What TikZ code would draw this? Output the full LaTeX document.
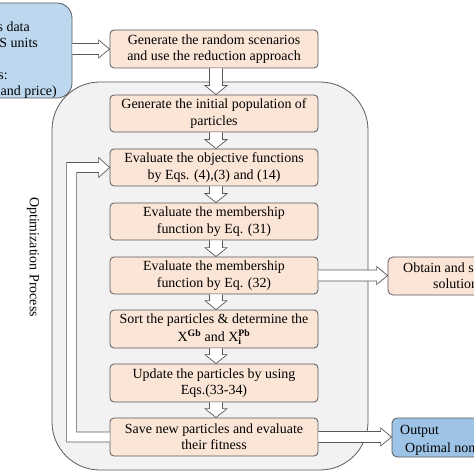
\documentclass[tikz,border=0pt]{standalone}
\usepackage{fontspec}
\setmainfont{Liberation Serif}
\usetikzlibrary{calc}
\definecolor{peach}{HTML}{FBE5D6}
\definecolor{lblue}{HTML}{BDD7EE}
\definecolor{mblue}{HTML}{9DC3E6}
\definecolor{bgray}{HTML}{F2F2F2}
\definecolor{edge}{HTML}{595959}
\tikzset{
  txt/.style={font=\fontsize{14}{16.5}\selectfont, inner sep=0pt},
  proc/.style={txt, draw=edge, fill=peach, line width=0.8bp, rounded corners=4bp,
    minimum width=208bp, minimum height=37bp, align=center},
  arrowbox/.style={draw=edge, fill=white, line width=0.7bp, line join=miter},
  harrow/.style={to path={let \p1=(\tikztostart), \p2=(\tikztotarget) in
    (\x1,\y1+5.5bp) -- (\x2-11bp,\y1+5.5bp) -- (\x2-11bp,\y1+9bp) -- (\x2,\y1)
    -- (\x2-11bp,\y1-9bp) -- (\x2-11bp,\y1-5.5bp) -- (\x1,\y1-5.5bp)}},
  varrow/.style={to path={let \p1=(\tikztostart), \p2=(\tikztotarget) in
    (\x1+2bp-6.5bp,\y1) -- (\x1+2bp-6.5bp,\y2+9bp) -- (\x1+2bp-11bp,\y2+9bp) -- (\x1+2bp,\y2)
    -- (\x1+2bp+11bp,\y2+9bp) -- (\x1+2bp+6.5bp,\y2+9bp) -- (\x1+2bp+6.5bp,\y1)}},
}
\begin{document}
\begin{tikzpicture}[x=1bp,y=-1bp]
\useasboundingbox (0,0) rectangle (474,474);
\clip (0,0) rectangle (474,474);
% optimization region
\draw[draw=edge, fill=bgray, line width=0.8bp, rounded corners=48bp] (52,82) rectangle (368,470);
\node[txt, rotate=-90] (opt) at (33,257) {Optimization Process};
% input box
\node[txt, draw=edge, fill=lblue, line width=0.8bp, rounded corners=15bp,
  minimum width=102bp, minimum height=95bp] (inp) at (21,50.5) {};
\node[txt, anchor=base east] (i1) at (30,31.5) {s data};
\node[txt, anchor=base east] (i2) at (38,47.5) {ES units};
\node[txt, anchor=base east] (i3) at (8,79.5) {s:};
\node[txt, anchor=base east] (i4) at (57,95.5) {and price)};
% process boxes
\node[proc, minimum height=38bp] (b1) at (214,49) {Generate the random scenarios\\and use the reduction approach};
\node[proc] (b2) at (214,113.5) {Generate the initial population of\\particles};
\node[proc] (b3) at (214,167.5) {Evaluate the objective functions\\by Eqs. (4),(3) and (14)};
\node[proc] (b4) at (214,221.5) {Evaluate the membership\\function by Eq. (31)};
\node[proc] (b5) at (214,275.5) {Evaluate the membership\\function by Eq. (32)};
\node[proc, minimum height=38bp] (b6) at (214,329) {Sort the particles \& determine the\\[2bp]X\textsuperscript{\textbf{Gb}} and X\rlap{\textsubscript{\textbf{i}}}\textsuperscript{\textbf{Pb}}};
\node[proc, minimum height=38bp] (b7) at (214,383) {Update the particles by using\\Eqs.(33-34)};
\node[proc, minimum height=38bp] (b8) at (214,437) {Save new particles and evaluate\\their fitness};
% right boxes
\node[txt, draw=edge, fill=peach, line width=0.8bp, rounded corners=5bp,
  minimum width=110bp, minimum height=38bp] (obt) at (443,276) {};
\node[txt, anchor=base west] (o1) at (403,272) {Obtain and s};
\node[txt, anchor=base west] (o2) at (433,288) {solution};
\node[txt, draw=edge, fill=mblue, line width=0.8bp, rounded corners=5bp,
  minimum width=110bp, minimum height=39bp] (out) at (447,437.5) {};
\node[txt, anchor=base west] (u1) at (400,434) {Output};
\node[txt, anchor=base west] (u2) at (405,452) {Optimal non};
% arrows
\draw[arrowbox] (inp.east|-b1.west) to[harrow] (b1.west);
\draw[arrowbox] (b1.south) to[varrow] (b2.north);
\draw[arrowbox] (b2.south) to[varrow] (b3.north);
\draw[arrowbox] (b3.south) to[varrow] (b4.north);
\draw[arrowbox] (b4.south) to[varrow] (b5.north);
\draw[arrowbox] (b5.south) to[varrow] (b6.north);
\draw[arrowbox] (b6.south) to[varrow] (b7.north);
\draw[arrowbox] (b7.south) to[varrow] (b8.north);
\draw[arrowbox] (b5.east) to[harrow] (obt.west|-b5.east);
\draw[arrowbox] (b8.east) to[harrow] (out.west|-b8.east);
% feedback loop
\draw[arrowbox] ($(b8.west)+(0,5)$) -- ($(b8.west)+(-43,5)$) -- ($(b3.west)+(-43,-5)$)
  -- ($(b3.west)+(-11,-5)$) -- ($(b3.west)+(-11,-10)$) -- (b3.west)
  -- ($(b3.west)+(-11,10)$) -- ($(b3.west)+(-11,5)$) -- ($(b3.west)+(-33,5)$)
  -- ($(b8.west)+(-33,-5)$) -- ($(b8.west)+(0,-5)$);
\end{tikzpicture}
\end{document}
